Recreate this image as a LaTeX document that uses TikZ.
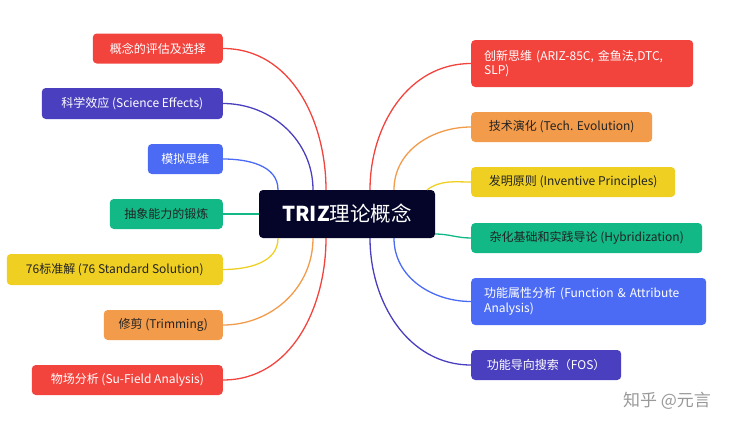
\documentclass[tikz,border=0pt]{standalone}
\usepackage{fontspec}
\setmainfont{Noto Sans CJK SC}
\definecolor{cred}{HTML}{F2433D}
\definecolor{cpurple}{HTML}{4A3FBF}
\definecolor{cblue}{HTML}{4B6BF5}
\definecolor{cgreen}{HTML}{12B886}
\definecolor{cyellow}{HTML}{EFD022}
\definecolor{corange}{HTML}{F29B4B}
\definecolor{cdark}{HTML}{05052A}
\definecolor{ctext}{HTML}{222222}
\tikzset{
  leaf/.style={rounded corners=4pt, minimum height=30pt, inner xsep=0pt, inner ysep=0pt, font=\fontsize{12}{14.5}\selectfont},
  lt/.style={text=white},
  dt/.style={text=ctext},
  conn/.style={line width=1.3pt},
}
\begin{document}
\begin{tikzpicture}[x=1pt,y=1pt]
\useasboundingbox (0,0) rectangle (744,-431);
\node[rounded corners=4pt, fill=cdark, text=white, minimum width=176pt, minimum height=48pt, font=\fontsize{20.5}{24}\selectfont] (c) at (347,-214) {{\bfseries TRIZ}理论概念};
% left
\node[leaf, lt, fill=cred, minimum width=130pt, anchor=east] (l1) at (223,-48.5) {概念的评估及选择};
\node[leaf, lt, fill=cpurple, minimum width=181pt, minimum height=31pt, anchor=east] (l2) at (223,-103.5) {科学效应 (Science Effects)};
\node[leaf, lt, fill=cblue, minimum width=75pt, anchor=east] (l3) at (223,-159) {模拟思维};
\node[leaf, dt, fill=cgreen, minimum width=113pt, anchor=east] (l4) at (223,-214) {抽象能力的锻炼};
\node[leaf, dt, fill=cyellow, minimum width=216pt, minimum height=31pt, anchor=east] (l5) at (223,-269.5) {76标准解 (76 Standard Solution)};
\node[leaf, dt, fill=corange, minimum width=119pt, anchor=east] (l6) at (223,-325) {修剪 (Trimming)};
\node[leaf, lt, fill=cred, minimum width=191pt, anchor=east] (l7) at (223,-380) {物场分析 (Su-Field Analysis)};
% right
\node[leaf, lt, fill=cred, minimum height=47pt, text width=196pt, inner xsep=13pt, align=left, anchor=west] (r1) at (471,-63.5) {创新思维 (ARIZ-85C, 金鱼法,DTC,\\SLP)};
\node[leaf, dt, fill=corange, minimum width=181pt, anchor=west] (r2) at (471,-127) {技术演化 (Tech. Evolution)};
\node[leaf, dt, fill=cyellow, minimum width=204pt, anchor=west] (r3) at (471,-182) {发明原则 (Inventive Principles)};
\node[leaf, dt, fill=cgreen, minimum width=231pt, anchor=west] (r4) at (471,-238) {杂化基础和实践导论 (Hybridization)};
\node[leaf, lt, fill=cblue, minimum height=47pt, text width=209pt, inner xsep=13pt, align=left, anchor=west] (r5) at (471,-301.5) {功能属性分析 (Function \& Attribute\\Analysis)};
\node[leaf, lt, fill=cpurple, minimum width=150pt, anchor=west] (r6) at (471,-365) {功能导向搜索（FOS）};
% connectors left
\draw[conn, cred] ([xshift=-21pt]c.north) to[out=90,in=0] (l1.east);
\draw[conn, cpurple] ([xshift=-34pt]c.north) to[out=90,in=0] (l2.east);
\draw[conn, cblue] ([xshift=-69pt]c.north) to[out=90,in=0] (l3.east);
\draw[conn, cgreen] (c.west) -- (l4.east);
\draw[conn, cyellow] ([xshift=-69pt]c.south) to[out=-90,in=0] (l5.east);
\draw[conn, corange] ([xshift=-34pt]c.south) to[out=-90,in=0] (l6.east);
\draw[conn, cred] ([xshift=-21pt]c.south) to[out=-90,in=0] (l7.east);
% connectors right
\draw[conn, cred] ([xshift=23pt]c.north) to[out=90,in=180] (r1.west);
\draw[conn, corange] ([xshift=47pt]c.north) to[out=90,in=180] (r2.west);
\draw[conn, cyellow] ([xshift=80pt]c.north) to[out=35,in=180] (r3.west);
\draw[conn, cgreen] ([yshift=-20pt]c.east) to[out=0,in=180] (r4.west);
\draw[conn, cblue] ([xshift=47pt]c.south) to[out=-90,in=180] (r5.west);
\draw[conn, cpurple] ([xshift=23pt]c.south) to[out=-90,in=180] (r6.west);
% watermark
\node[text=black!40, font=\fontsize{17}{20}\selectfont] (wm) at (667,-401) {知乎 @元言};
\end{tikzpicture}
\end{document}
